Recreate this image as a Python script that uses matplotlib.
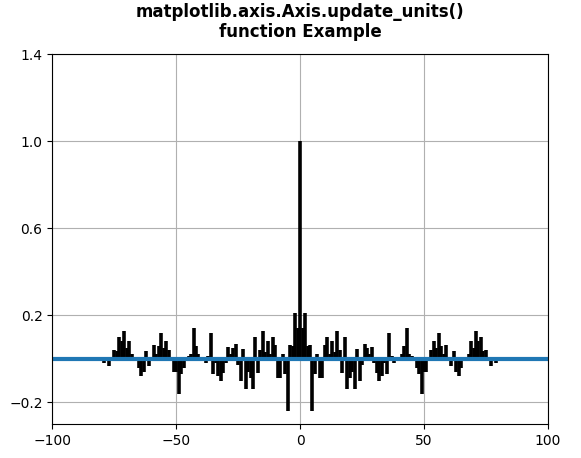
import numpy as np
import matplotlib.pyplot as plt

# autocorrelation values for lags 1..80 (symmetric around lag 0)
pos_corr = [0.14, 0.21, 0.06, 0.065, -0.24, -0.07, 0.02, -0.09, -0.09, 0.065,
            0.10, 0.02, 0.08, 0.03, 0.13, 0.04, -0.065, 0.10, -0.14, -0.09,
            -0.06, -0.14, 0.045, -0.10, -0.03, 0.07, 0.05, 0.02, 0.055, -0.02,
            -0.065, -0.10, -0.08, -0.02, -0.07, 0.12, 0.012, -0.02, 0.01, 0.01,
            0.02, 0.06, 0.14, 0.02, 0.015, -0.01, -0.04, -0.07, -0.16, -0.06,
            -0.06, 0.01, 0.04, 0.08, 0.05, 0.12, 0.06, 0.02, 0.065, 0.01,
            -0.035, 0.035, -0.06, -0.08, -0.04, 0.01, 0.01, 0.02, 0.08, 0.05,
            0.13, 0.08, 0.10, 0.035, 0.04, 0.01, -0.035, 0.005, -0.02, 0.005]
x_ticks = [-100, -50, 0, 50, 100]
y_ticks = [-0.2, 0.2, 0.6, 1.0, 1.4]

corr = np.array(pos_corr[::-1] + [1.0] + pos_corr)
lags = np.arange(-len(pos_corr), len(pos_corr) + 1)

fig, ax = plt.subplots(figsize=(5.81, 4.58), dpi=100)
fig.subplots_adjust(left=0.09, right=0.943, top=0.882, bottom=0.074)
ax.vlines(lags, 0, corr, colors='black', linewidth=2.6)
ax.axhline(0, color='tab:blue', linewidth=3)
ax.set_xlim(-100, 100)
ax.set_ylim(-0.3, 1.4)
ax.set_xticks(x_ticks)
ax.set_yticks(y_ticks)
ax.grid(True)
ax.set_title('matplotlib.axis.Axis.update_units()\nfunction Example',
             fontweight='bold', pad=12)
fig.savefig('out.png')
